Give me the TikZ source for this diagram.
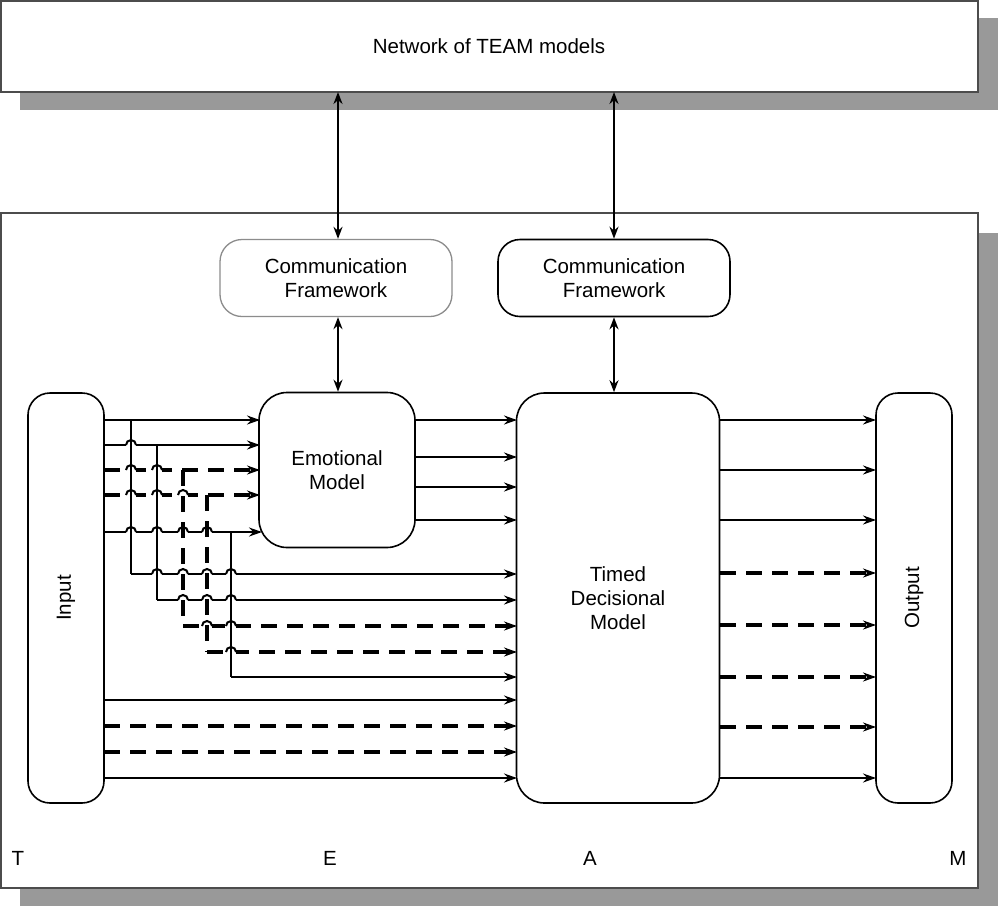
\documentclass[tikz,border=0pt]{standalone}
\usepackage{fontspec}
\setmainfont{Liberation Sans}
\usetikzlibrary{arrows.meta,patterns}
\begin{document}
\begin{tikzpicture}[x=1pt,y=-1pt,
  box/.style={draw=black!70,line width=1.3pt,fill=white},
  rbox/.style={draw=black,line width=1.6pt,rounded corners=22pt,fill=white},
  cbox/.style={draw=black!45,line width=1.3pt,rounded corners=22pt,fill=white},
  ar/.style={line width=2pt,-{Stealth[length=13pt,width=9pt]}},
  dar/.style={ar,line width=3.2pt,dash pattern=on 16pt off 10pt},
  dv/.style={line width=3.2pt,dash pattern=on 16pt off 10pt},
  sv/.style={line width=2pt},
  da/.style={line width=2pt,{Stealth[length=12pt,width=9pt]}-{Stealth[length=12pt,width=9pt]}},
  txt/.style={font=\fontsize{20.5}{24}\selectfont,align=center}]
\useasboundingbox (0,0) rectangle (999,906);
% shadows
\fill[black!40] (20,18) rectangle (998,110);
\fill[black!40] (20,233) rectangle (998,906);
% boxes
\draw[box] (1,1) rectangle (978,92);
\node[txt] (net) at (489,46) {Network of TEAM models};
\draw[box] (1,213) rectangle (978,888);
\node[cbox,txt,minimum width=232pt,minimum height=77pt] (c1) at (336,278) {Communication\\Framework};
\node[rbox,txt,minimum width=232pt,minimum height=77pt] (c2) at (614,278) {Communication\\Framework};
\node[rbox,minimum width=76pt,minimum height=410pt] (in) at (66,598) {};
\node[txt,rotate=90] at (in) {Input};
\node[rbox,txt,minimum width=156pt,minimum height=155pt,rounded corners=28pt] (em) at (337,470) {Emotional\\Model};
\node[rbox,txt,minimum width=203pt,minimum height=410pt,rounded corners=28pt] (td) at (618,598) {Timed\\Decisional\\Model};
\node[rbox,minimum width=76pt,minimum height=410pt] (out) at (914,598) {};
\node[txt,rotate=90] at (out) {Output};
\node[txt] (lT) at (18,858) {T};
\node[txt] (lE) at (330,858) {E};
\node[txt] (lA) at (590,858) {A};
\node[txt] (lM) at (958,858) {M};
% vertical links
\draw[da] (338,92) -- (c1.north -| 338,0);
\draw[da] (c1.south -| 338,0) -- (em.north -| 338,0);
\draw[da] (614,92) -- (c2.north);
\draw[da] (c2.south) -- (td.north -| 614,0);
% input -> emotional
\draw[ar] (104,420) -- (260,420);
\draw[ar] (104,445) -- (260,445);
\draw[dar] (104,470) -- (260,470);
\draw[dar] (104,495) -- (260,495);
\draw[ar] (104,532) -- (262,532);
% branch horizontals
\draw[ar] (131,574) -- (517,574);
\draw[ar] (157,600) -- (517,600);
\draw[dar] (183,626) -- (517,626);
\draw[dar] (207,652) -- (517,652);
\draw[ar] (231,677) -- (517,677);
% direct
\draw[ar] (104,700) -- (517,700);
\draw[dar] (104,726) -- (517,726);
\draw[dar] (104,752) -- (517,752);
\draw[ar] (104,778) -- (517,778);
% emotional -> timed
\foreach \y in {420,457,487,520} \draw[ar] (415,\y) -- (517,\y);
% timed -> output
\foreach \y in {420,470,520,778} \draw[ar] (720,\y) -- (876,\y);
\foreach \y in {573,625,677,727} \draw[dar] (720,\y) -- (876,\y);
% hop erase
\foreach \x/\y in {131/445,131/470,157/470,131/495,157/495,183/495,131/532,157/532,183/532,207/532,157/574,183/574,207/574,231/574,183/600,207/600,231/600,207/626,231/626,231/652}
  \draw[white,line width=5pt] (\x-5,\y) -- (\x+5,\y);
% verticals
\draw[sv] (131,420) -- (131,574);
\draw[sv] (157,445) -- (157,600);
\draw[dv] (183,470) -- (183,626);
\draw[dv] (207,495) -- (207,652);
\draw[sv] (231,532) -- (231,677);
% hop arcs
\foreach \x/\y in {131/445,131/470,157/470,131/495,157/495,183/495,131/532,157/532,183/532,207/532,157/574,183/574,207/574,231/574,183/600,207/600,231/600,207/626,231/626,231/652}
  \draw[line width=2pt] (\x-5,\y) arc[start angle=180,end angle=0,radius=5pt];
\end{tikzpicture}
\end{document}
